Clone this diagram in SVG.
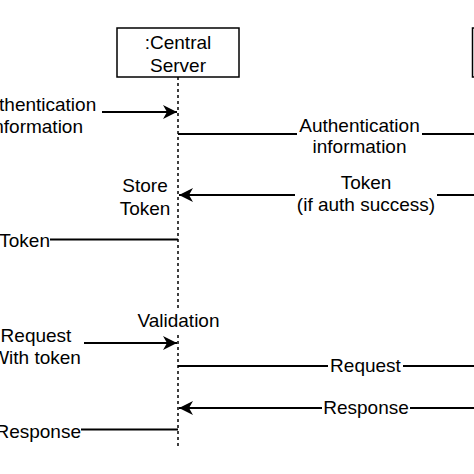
<svg xmlns="http://www.w3.org/2000/svg" width="474" height="474" viewBox="0 0 474 474">
<style>
  text { font-family: "Liberation Sans", Arial, Helvetica, sans-serif; font-size: 19px; fill: #000; }
  .m { text-anchor: middle; }
  .e { text-anchor: end; }
  .box { fill: #fff; stroke: #000; stroke-width: 1.5; }
  .life { stroke: #000; stroke-width: 1.5; stroke-dasharray: 3 3; fill: none; }
  .msg { stroke: #000; stroke-width: 2; fill: none; }
  .bg { fill: #fff; }
</style>
<defs>
  <marker id="arr" markerUnits="userSpaceOnUse" markerWidth="16" markerHeight="16" refX="14" refY="7" orient="auto">
    <path d="M0,0 L14,7 L0,14 L4,7 z" fill="#000"/>
  </marker>
</defs>
<rect width="474" height="474" fill="#fff"/>

<g id="central-server">
  <rect class="box" x="117" y="28" width="122" height="49"/>
  <text class="m" x="178" y="49">:Central</text>
  <text class="m" x="178" y="72">Server</text>
  <line class="life" x1="178" y1="77" x2="178" y2="446"/>
</g>

<g id="right-node">
  <rect class="box" x="472.5" y="28" width="122" height="49"/>
</g>

<g id="connectors">
  <line class="msg" x1="102" y1="112" x2="177" y2="112" marker-end="url(#arr)"/>
  <line class="msg" x1="178" y1="134" x2="480" y2="134"/>
  <line class="msg" x1="480" y1="195" x2="179" y2="195" marker-end="url(#arr)"/>
  <line class="msg" x1="178" y1="239.5" x2="-10" y2="239.5"/>
  <line class="msg" x1="84" y1="343" x2="177" y2="343" marker-end="url(#arr)"/>
  <line class="msg" x1="178" y1="366" x2="480" y2="366"/>
  <line class="msg" x1="480" y1="408" x2="179" y2="408" marker-end="url(#arr)"/>
  <line class="msg" x1="178" y1="429.5" x2="-10" y2="429.5"/>
</g>

<g id="labels">
  <text class="m" x="36" y="111">Authentication</text>
  <text class="m" x="36" y="133">information</text>

  <rect class="bg" x="297" y="117" width="125" height="40"/>
  <text class="m" x="359.5" y="132">Authentication</text>
  <text class="m" x="359.5" y="153">information</text>

  <text class="m" x="145" y="192">Store</text>
  <text class="m" x="145" y="215">Token</text>

  <rect class="bg" x="295" y="174" width="142" height="42"/>
  <text class="m" x="366" y="189">Token</text>
  <text class="m" x="366" y="211">(if auth success)</text>

  <rect class="bg" x="-10" y="228" width="60" height="22"/>
  <text class="e" x="50" y="247">Token</text>

  <rect class="bg" x="137" y="311" width="83" height="22"/>
  <text class="m" x="178.5" y="327">Validation</text>

  <text class="m" x="36" y="342">Request</text>
  <text class="m" x="36" y="364">With token</text>

  <rect class="bg" x="328" y="355" width="75" height="22"/>
  <text class="m" x="365.5" y="372">Request</text>

  <rect class="bg" x="322" y="397" width="88" height="22"/>
  <text class="m" x="366" y="414">Response</text>

  <rect class="bg" x="-10" y="418" width="91" height="22"/>
  <text class="e" x="81" y="438">Response</text>
</g>
</svg>
